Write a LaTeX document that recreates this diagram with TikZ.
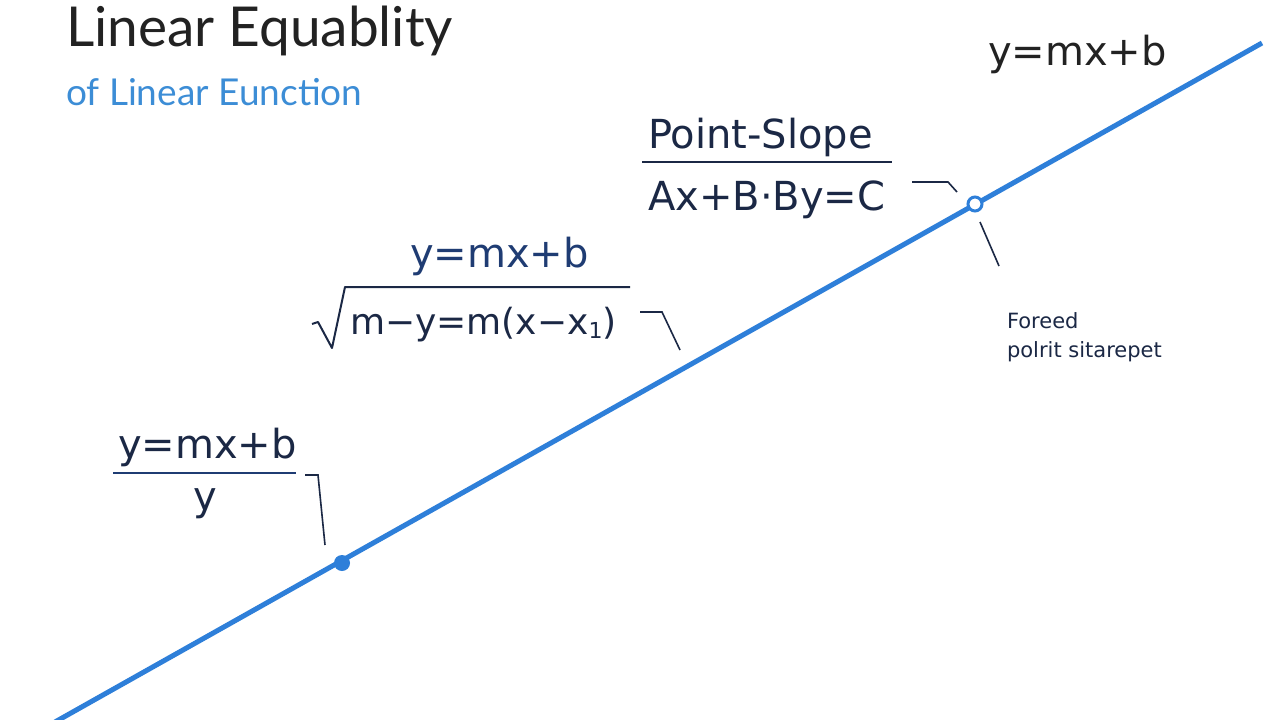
\documentclass[tikz,border=0pt]{standalone}
\usepackage{fontspec}
\setmainfont{Lato}
\newfontfamily\eqfont{DejaVu Sans}
\definecolor{lineblue}{HTML}{2E7FD9}
\definecolor{titlegray}{HTML}{222222}
\definecolor{subblue}{HTML}{3C8DD6}
\definecolor{navy}{HTML}{1B2845}
\definecolor{midnavy}{HTML}{1F3C73}
\tikzset{
  px/.style={x=1pt,y=-1pt},
  lbl/.style={anchor=base west, inner sep=0pt, outer sep=0pt},
  eq/.style={lbl, font=\eqfont\fontsize{40}{44}\selectfont, text=navy},
  leader/.style={draw=navy, line width=1.6pt},
  rule/.style={draw=navy, line width=2pt},
  mainline/.style={draw=lineblue, line width=5pt},
}
\newcommand{\mns}{\char"2212\relax}
\begin{document}
\begin{tikzpicture}[px]
\useasboundingbox[fill=white] (0,0) rectangle (1280,720);
% title
\node[lbl, font=\fontsize{55}{60}\selectfont, text=titlegray] (title) at (66,46) {Linear Equablity};
\node[lbl, font=\fontsize{37}{42}\selectfont, text=subblue] (subtitle) at (66,105) {of Linear Eunction};
% main line
\coordinate (lstart) at (55,722);
\coordinate (lend) at (1262,43);
\draw[mainline] (lstart) -- (lend);
% points
\node[circle, fill=lineblue, minimum size=16pt, inner sep=0pt] (p1) at (342,563) {};
\node[circle, fill=white, draw=lineblue, line width=3pt, minimum size=14pt, inner sep=0pt] (p2) at (975,204) {};
% top right
\node[eq, text=titlegray] (eqtr) at (988,65) {y=mx+b};
% point-slope block
\node[eq] (ps) at (648,148) {Point-Slope};
\coordinate (psl) at (642,162);
\coordinate (psr) at (892,162);
\draw[rule] (psl) -- (psr);
\node[eq] (std) at (648,210) {Ax+B·By=C};
\coordinate (a1) at (912,182);
\coordinate (a2) at (948,182);
\coordinate (a3) at (957,192);
\draw[leader] (a1) -- (a2) -- (a3);
\coordinate (b1) at (980,222);
\coordinate (b2) at (999,266);
\draw[leader] (b1) -- (b2);
% middle block
\node[eq, text=midnavy] (eqmid) at (410,267) {y=mx+b};
\coordinate (s1) at (312,324);
\coordinate (s2) at (318,322);
\coordinate (s3) at (332,348);
\coordinate (s4) at (345,287);
\coordinate (s5) at (630,287);
\draw[navy, line width=2pt, line join=round] (s1) -- (s2) -- (s3) -- (s4) -- (s5);
\node[eq, font=\eqfont\fontsize{36}{40}\selectfont] (pointslope) at (350,334) {m\mns y=m(x\mns x\raisebox{-0.25ex}{\fontsize{22}{24}\selectfont 1})};
\coordinate (c1) at (640,312);
\coordinate (c2) at (662,312);
\coordinate (c3) at (680,350);
\draw[leader] (c1) -- (c2) -- (c3);
% left block
\node[eq] (eqleft) at (118,458) {y=mx+b};
\coordinate (ll) at (113,473);
\coordinate (lr) at (296,473);
\draw[draw=midnavy, line width=2pt] (ll) -- (lr);
\node[eq, anchor=base] (ylab) at (205,510) {y};
\coordinate (d1) at (305,475);
\coordinate (d2) at (318,475);
\coordinate (d3) at (325,545);
\draw[leader] (d1) -- (d2) -- (d3);
% small note
\node[lbl, font=\eqfont\fontsize{21}{29}\selectfont, text=navy, align=left, anchor=north west] (note) at (1007,313) {Foreed\\polrit sitarepet};
\end{tikzpicture}
\end{document}
